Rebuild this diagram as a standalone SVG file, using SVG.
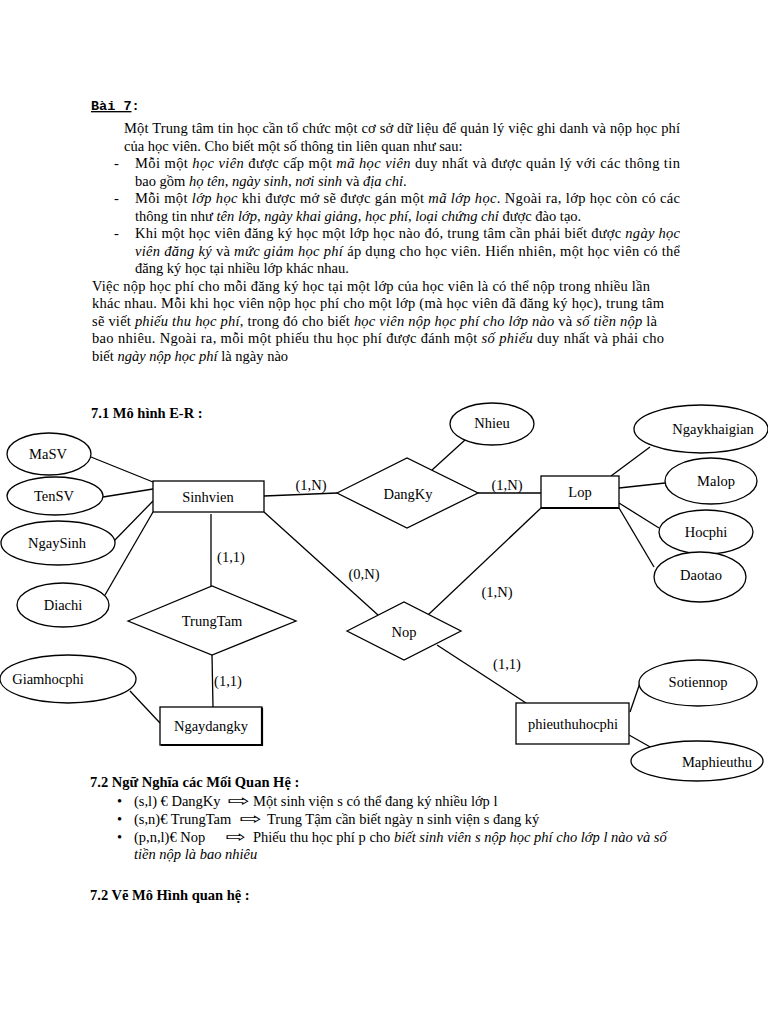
<svg xmlns="http://www.w3.org/2000/svg" width="768" height="1024" viewBox="0 0 768 1024">
<style>
.t{font-family:"Liberation Serif","Times New Roman",serif;font-size:14.5px;fill:#000}
.i{font-style:italic}
.b{font-weight:bold}
.m{font-family:"Liberation Mono","Courier New",monospace;font-weight:bold;font-size:13.5px}
.ar{font-family:"DejaVu Sans",sans-serif;font-size:15px}
.lbl{font-family:"Liberation Serif","Times New Roman",serif;font-size:14.5px;fill:#000;text-anchor:middle}
.sh{fill:#fff;stroke:#000;stroke-width:1.3}
.cn line{stroke:#000;stroke-width:1.3}
</style>
<rect width="768" height="1024" fill="#fff"/>
<g id="text-top" class="t">
<text x="91" y="110" class="m"><tspan text-decoration="underline">Bài 7</tspan>:</text>
<text x="124" y="133" textLength="556" lengthAdjust="spacing">Một Trung tâm tin học cần tổ chức một cơ sở dữ liệu để quản lý việc ghi danh và nộp học phí</text>
<text x="124" y="150.5">của học viên. Cho biết một số thông tin liên quan như sau:</text>
<text x="114" y="168">-</text>
<text x="135" y="168" textLength="545" lengthAdjust="spacing">Mỗi một <tspan class="i">học viên</tspan> được cấp một <tspan class="i">mã học viên</tspan> duy nhất và được quản lý với các thông tin</text>
<text x="135" y="185.5">bao gồm <tspan class="i">họ tên</tspan>, <tspan class="i">ngày sinh</tspan>, <tspan class="i">nơi sinh</tspan> và <tspan class="i">địa chỉ</tspan>.</text>
<text x="114" y="203">-</text>
<text x="135" y="203" textLength="545" lengthAdjust="spacing">Mỗi một <tspan class="i">lớp học</tspan> khi được mở sẽ được gán một <tspan class="i">mã lớp học</tspan>. Ngoài ra, lớp học còn có các</text>
<text x="135" y="220.5">thông tin như <tspan class="i">tên lớp</tspan>, <tspan class="i">ngày khai giảng</tspan>, <tspan class="i">học phí</tspan>, <tspan class="i">loại chứng chỉ</tspan> được đào tạo.</text>
<text x="114" y="238">-</text>
<text x="135" y="238" textLength="545" lengthAdjust="spacing">Khi một học viên đăng ký học một lớp học nào đó, trung tâm cần phải biết được <tspan class="i">ngày học</tspan></text>
<text x="135" y="255.5" textLength="545" lengthAdjust="spacing"><tspan class="i">viên đăng ký</tspan> và <tspan class="i">mức giảm học phí</tspan> áp dụng cho học viên. Hiển nhiên, một học viên có thể</text>
<text x="135" y="273">đăng ký học tại nhiều lớp khác nhau.</text>
<text x="92" y="290.5" textLength="558" lengthAdjust="spacing">Việc nộp học phí cho mỗi đăng ký học tại một lớp của học viên là có thể nộp trong nhiều lần</text>
<text x="92" y="308" textLength="572" lengthAdjust="spacing">khác nhau. Mỗi khi học viên nộp học phí cho một lớp (mà học viên đã đăng ký học), trung tâm</text>
<text x="92" y="325.5" textLength="565" lengthAdjust="spacing">sẽ viết <tspan class="i">phiếu thu học phí</tspan>, trong đó cho biết <tspan class="i">học viên nộp học phí cho lớp nào</tspan> và <tspan class="i">số tiền nộp</tspan> là</text>
<text x="92" y="343" textLength="572" lengthAdjust="spacing">bao nhiêu. Ngoài ra, mỗi một phiếu thu học phí được đánh một <tspan class="i">số phiếu</tspan> duy nhất và phải cho</text>
<text x="92" y="360.5">biết <tspan class="i">ngày nộp học phí</tspan> là ngày nào</text>
<text x="91" y="418" class="b">7.1 Mô hình E-R :</text>
</g>
<g id="connectors" class="cn">
<line x1="91" y1="457" x2="153" y2="482"/>
<line x1="103" y1="497" x2="153" y2="489"/>
<line x1="113" y1="542" x2="153" y2="501"/>
<line x1="153" y1="512" x2="105" y2="595"/>
<line x1="211" y1="514" x2="211" y2="586"/>
<line x1="212" y1="655" x2="213" y2="707"/>
<line x1="130" y1="691" x2="160" y2="723"/>
<line x1="264" y1="496" x2="337" y2="493"/>
<line x1="432" y1="470" x2="465" y2="440"/>
<line x1="478" y1="493" x2="541" y2="493"/>
<line x1="611" y1="476" x2="650" y2="447"/>
<line x1="619" y1="488" x2="665" y2="483"/>
<line x1="619" y1="503" x2="659" y2="528"/>
<line x1="619" y1="508" x2="654" y2="567"/>
<line x1="264" y1="512" x2="378" y2="615"/>
<line x1="541" y1="508" x2="428" y2="615"/>
<line x1="437" y1="645" x2="526" y2="703"/>
<line x1="630" y1="712" x2="641" y2="680"/>
<line x1="629" y1="735" x2="652" y2="748"/>
</g>
<g id="card-labels" class="lbl">
<text x="311" y="490">(1,N)</text>
<text x="507" y="490">(1,N)</text>
<text x="231" y="562">(1,1)</text>
<text x="228" y="686">(1,1)</text>
<text x="364" y="579">(0,N)</text>
<text x="497" y="597">(1,N)</text>
<text x="507" y="669">(1,1)</text>
</g>
<g id="MaSV"><ellipse class="sh" cx="49" cy="454" rx="42" ry="21"/><text class="lbl" x="48" y="459">MaSV</text></g>
<g id="TenSV"><ellipse class="sh" cx="55" cy="496" rx="48" ry="19"/><text class="lbl" x="54" y="501">TenSV</text></g>
<g id="NgaySinh"><ellipse class="sh" cx="58" cy="543" rx="57" ry="22"/><text class="lbl" x="57" y="548">NgaySinh</text></g>
<g id="Diachi"><ellipse class="sh" cx="63" cy="605" rx="46" ry="22"/><text class="lbl" x="63" y="610">Diachi</text></g>
<g id="Giamhocphi"><ellipse class="sh" cx="68" cy="679" rx="68" ry="24"/><text class="lbl" x="48" y="684">Giamhocphi</text></g>
<g id="Sinhvien"><rect class="sh" x="153" y="481" width="111" height="31"/><text class="lbl" x="208" y="502">Sinhvien</text></g>
<g id="TrungTam"><polygon class="sh" points="128,621 212,586 296,621 212,655"/><text class="lbl" x="212" y="626">TrungTam</text></g>
<g id="Ngaydangky"><rect class="sh" x="160" y="707" width="102" height="38"/><polyline points="262,708 262,745 161,745" fill="none" stroke="#000" stroke-width="2.2"/><text class="lbl" x="211" y="731">Ngaydangky</text></g>
<g id="DangKy"><polygon class="sh" points="337,493 407,458 478,493 407,528"/><text class="lbl" x="408" y="499">DangKy</text></g>
<g id="Nhieu"><ellipse class="sh" cx="492" cy="424" rx="42" ry="21"/><text class="lbl" x="492" y="428">Nhieu</text></g>
<g id="Lop"><rect class="sh" x="541" y="476" width="78" height="32"/><line x1="541" y1="508" x2="619" y2="508" stroke="#000" stroke-width="2"/><text class="lbl" x="580" y="497">Lop</text></g>
<g id="Ngaykhaigian"><ellipse class="sh" cx="701" cy="429" rx="67" ry="24"/><text class="lbl" x="713" y="434">Ngaykhaigian</text></g>
<g id="Malop"><ellipse class="sh" cx="711" cy="481" rx="46" ry="23"/><text class="lbl" x="716" y="486">Malop</text></g>
<g id="Hocphi"><ellipse class="sh" cx="706" cy="532" rx="47" ry="22"/><text class="lbl" x="706" y="537">Hocphi</text></g>
<g id="Daotao"><ellipse class="sh" cx="700" cy="577" rx="46" ry="25"/><text class="lbl" x="701" y="580">Daotao</text></g>
<g id="Nop"><polygon class="sh" points="347,631 404,602 461,631 404,660"/><text class="lbl" x="404" y="637">Nop</text></g>
<g id="phieuthuhocphi"><rect class="sh" x="516" y="703" width="113" height="41"/><text class="lbl" x="573" y="729">phieuthuhocphi</text></g>
<g id="Sotiennop"><ellipse class="sh" cx="698" cy="683" rx="59" ry="23"/><text class="lbl" x="698" y="687">Sotiennop</text></g>
<g id="Maphieuthu"><ellipse class="sh" cx="697" cy="761" rx="66" ry="20"/><text class="lbl" x="717" y="767">Maphieuthu</text></g>
<g id="text-bottom" class="t">
<text x="90" y="787" class="b">7.2 Ngữ Nghĩa các Mối Quan Hệ :</text>
<text x="117" y="806">•</text>
<text x="134" y="806">(s,l) € DangKy</text>
<text x="228" y="806" class="ar" textLength="22" lengthAdjust="spacingAndGlyphs">⇨</text>
<text x="253" y="806">Một sinh viện s có thể đang ký nhiều lớp l</text>
<text x="117" y="824">•</text>
<text x="134" y="824">(s,n)€ TrungTam</text>
<text x="240" y="824" class="ar" textLength="22" lengthAdjust="spacingAndGlyphs">⇨</text>
<text x="267" y="824">Trung Tậm cần biết ngày n sinh viện s đang ký</text>
<text x="117" y="842">•</text>
<text x="134" y="842">(p,n,l)€ Nop</text>
<text x="226" y="842" class="ar" textLength="20" lengthAdjust="spacingAndGlyphs">⇨</text>
<text x="253" y="842">Phiếu thu học phí p cho <tspan class="i">biết sinh viên s nộp học phí cho lớp l nào và số</tspan></text>
<text x="134" y="859" class="i">tiền nộp là bao nhiêu</text>
<text x="90" y="900" class="b">7.2 Vẽ Mô Hình quan hệ :</text>
</g>
</svg>
